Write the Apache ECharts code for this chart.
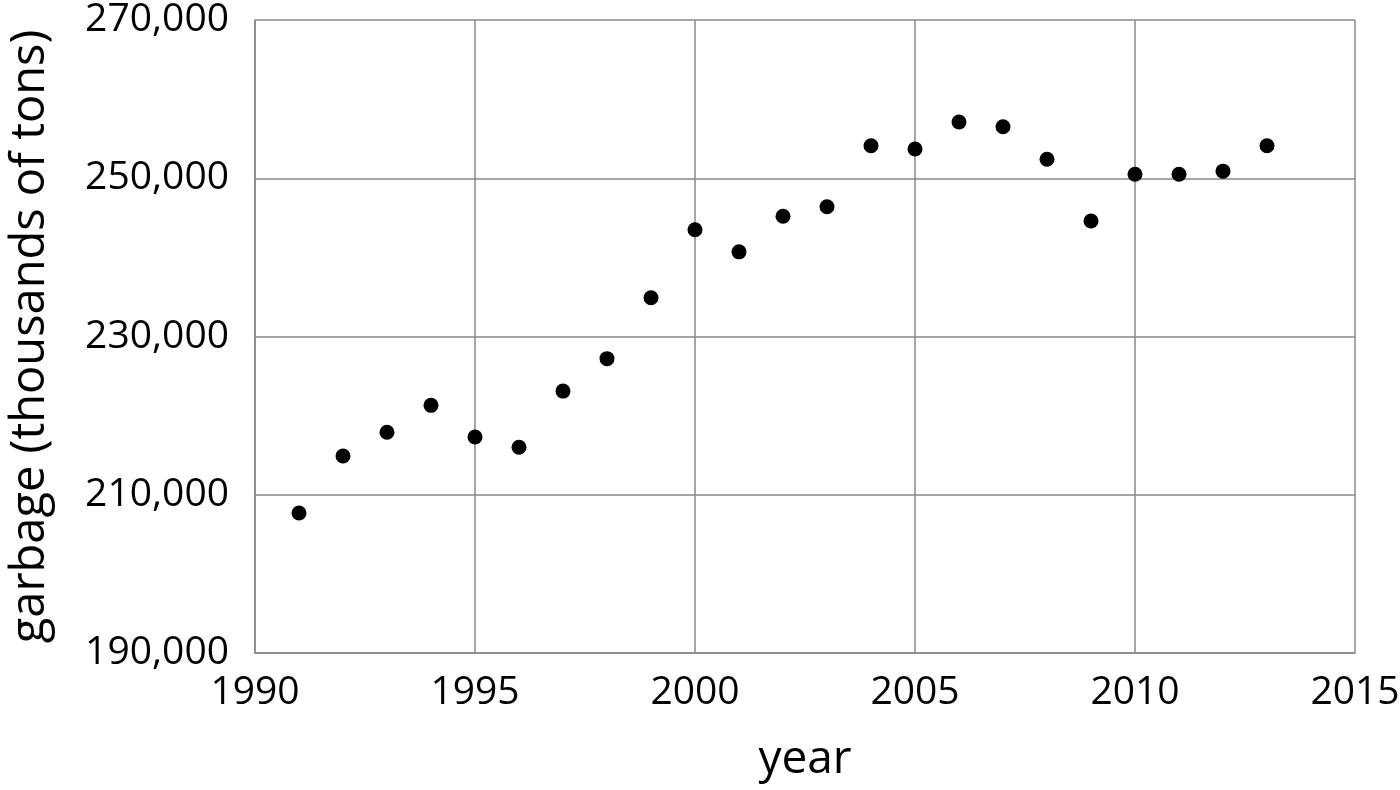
<!DOCTYPE html>
<html>
<head>
<meta charset="utf-8">
<script src="https://cdn.jsdelivr.net/npm/echarts@6/dist/echarts.min.js"></script>
<style>
html,body{margin:0;padding:0;background:#fff;}
#chart{width:1400px;height:790px;}
</style>
</head>
<body>
<div id="chart"></div>
<script>
const years = [1991,1992,1993,1994,1995,1996,1997,1998,1999,2000,2001,2002,2003,2004,2005,2006,2007,2008,2009,2010,2011,2012,2013];
const garbage = [207700,214900,217900,221300,217300,216000,223100,227200,234900,243500,240700,245200,246400,254100,253700,257100,256500,252400,244600,250500,250500,250900,254100];
const xTicks = [1990,1995,2000,2005,2010,2015];
const yTicks = [190000,210000,230000,250000,270000];

const font = '"Open Sans", "Noto Sans", sans-serif';
const chart = echarts.init(document.getElementById('chart'));
chart.setOption({
  backgroundColor: '#fff',
  animation: false,
  grid: {left: 255, top: 20, width: 1100, height: 633, show: false, containLabel: false, outerBoundsMode: 'none'},
  xAxis: {
    type: 'value', min: xTicks[0], max: xTicks[xTicks.length-1], interval: 5,
    name: 'year', nameLocation: 'middle', nameGap: 84,
    nameTextStyle: {fontFamily: font, fontSize: 46, color: '#000'},
    axisLine: {show: true, lineStyle: {color: '#888', width: 1.5}},
    axisTick: {show: false},
    axisLabel: {fontFamily: font, fontSize: 39, color: '#000', margin: 20,
      formatter: v => String(v)},
    splitLine: {show: true, lineStyle: {color: '#888', width: 1.5}}
  },
  yAxis: {
    type: 'value', min: yTicks[0], max: yTicks[yTicks.length-1], interval: 20000,
    name: 'garbage (thousands of tons)', nameLocation: 'middle', nameGap: 201,
    nameTextStyle: {fontFamily: font, fontSize: 47, color: '#000'},
    axisLine: {show: true, lineStyle: {color: '#888', width: 1.5}},
    axisTick: {show: false},
    axisLabel: {fontFamily: font, fontSize: 39, color: '#000', margin: 26,
      formatter: v => v.toLocaleString('en-US')},
    splitLine: {show: true, lineStyle: {color: '#888', width: 1.5}}
  },
  series: [{
    type: 'scatter',
    data: years.map((y, i) => [y, garbage[i]]),
    symbol: 'circle', symbolSize: 15,
    itemStyle: {color: '#000', opacity: 1}
  }]
});
</script>
</body>
</html>
